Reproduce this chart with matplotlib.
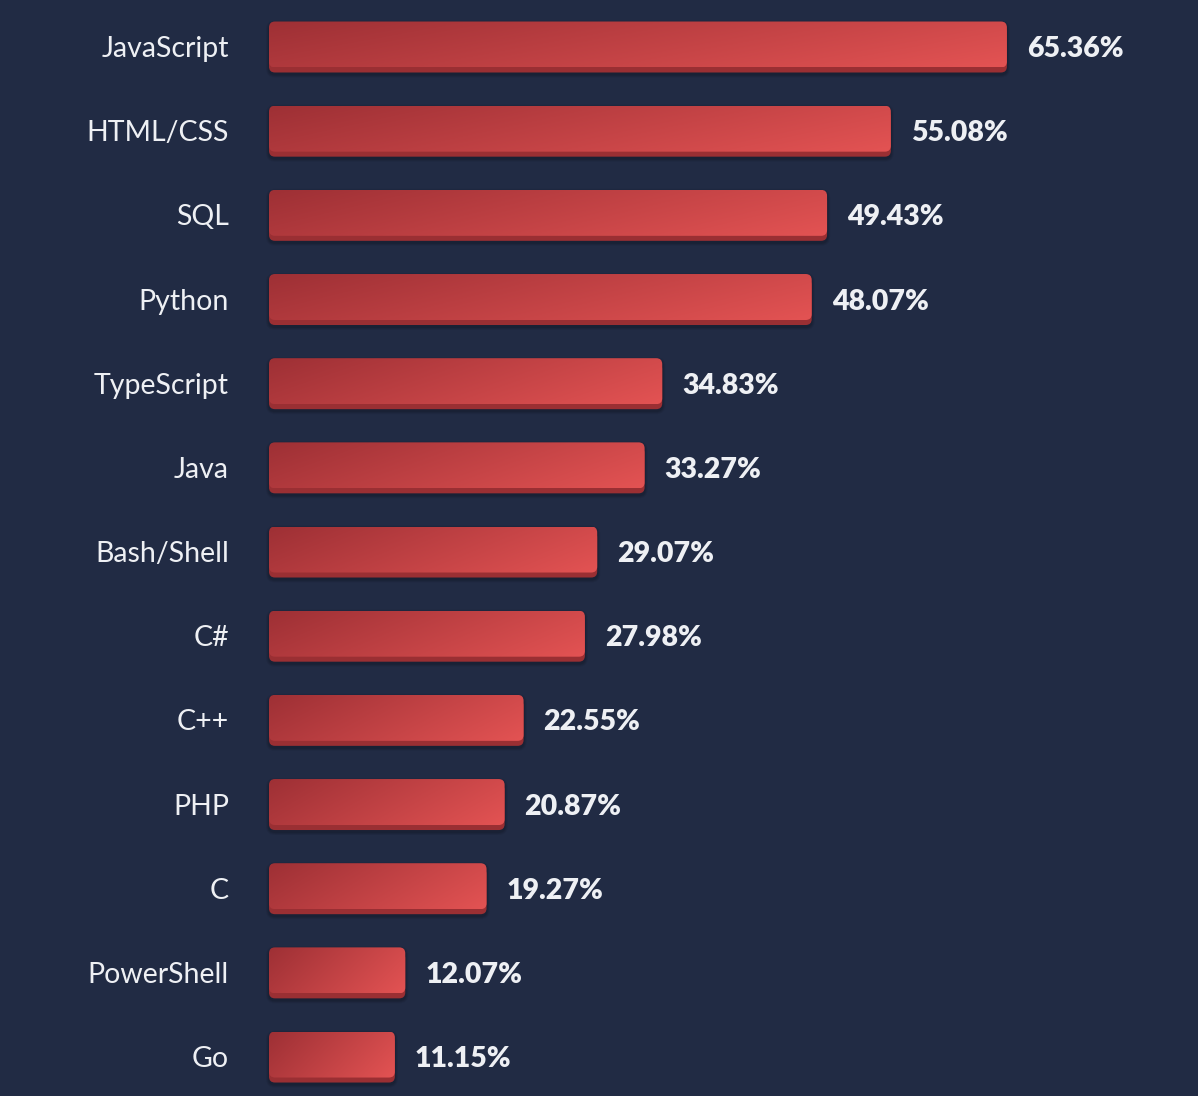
import numpy as np
import matplotlib.pyplot as plt
from matplotlib.patches import FancyBboxPatch
from matplotlib.colors import LinearSegmentedColormap

# Data
languages = ["JavaScript", "HTML/CSS", "SQL", "Python", "TypeScript", "Java",
             "Bash/Shell", "C#", "C++", "PHP", "C", "PowerShell", "Go"]
shares = [65.36, 55.08, 49.43, 48.07, 34.83, 33.27,
          29.07, 27.98, 22.55, 20.87, 19.27, 12.07, 11.15]

BG = "#212b44"
TEXT = "#eef0f4"
cmap = LinearSegmentedColormap.from_list("bar", ["#9e3035", "#e35353"])
EDGE = "#9a2f33"

W, H = 1198, 1096
fig = plt.figure(figsize=(W / 100, H / 100), dpi=100)
fig.patch.set_facecolor(BG)
ax = fig.add_axes([0, 0, 1, 1])
ax.set_facecolor(BG)
ax.axis("off")

# pixel scale: bar origin at x=269, 11.29 px per percent; rows 84.17 px apart
px_x = 11.29
px_y = 84.17
ax.set_xlim(-269 / px_x, (W - 269) / px_x)
ax.set_ylim((H - 47) / px_y, -47 / px_y)

face_h = 46 / px_y
band = 5 / px_y
rad = 6 / px_x
aspect = px_x / px_y

u = np.linspace(0, 1, 200)
v = np.linspace(0, 1, 40)
U, V = np.meshgrid(u, v)
grad = 0.75 * U + 0.25 * V

for i, (lang, val) in enumerate(zip(languages, shares)):
    top = i - (face_h + band) / 2
    # soft shadow
    for k, a in [(3, 0.05), (2, 0.07), (1, 0.09)]:
        sh = FancyBboxPatch((0 - k / px_x, top - k / px_y + 2 / px_y),
                            val + k * 2 / px_x, face_h + band + 2 * k / px_y,
                            boxstyle=f"round,pad=0,rounding_size={rad + k / px_x}",
                            mutation_aspect=aspect, fc="black", ec="none",
                            alpha=a, zorder=1)
        ax.add_patch(sh)
    # darker bottom band
    base = FancyBboxPatch((0, top + band), val, face_h,
                          boxstyle=f"round,pad=0,rounding_size={rad}",
                          mutation_aspect=aspect, fc=EDGE, ec="none", zorder=2)
    ax.add_patch(base)
    face = FancyBboxPatch((0, top), val, face_h,
                          boxstyle=f"round,pad=0,rounding_size={rad}",
                          mutation_aspect=aspect, fc="none", ec="none", zorder=3)
    ax.add_patch(face)
    im = ax.imshow(grad, cmap=cmap, extent=[0, val, top + face_h, top],
                   aspect="auto", interpolation="bicubic", zorder=3)
    im.set_clip_path(face)

    ax.text(-40 / px_x, i + 2 / px_y, lang, ha="right", va="center", color=TEXT,
            fontsize=20.5, family="Lato")
    ax.text(val + 20 / px_x, i + 2 / px_y, f"{val:.2f}%", ha="left", va="center",
            color=TEXT, fontsize=20.5, fontweight="heavy", family="Lato")

fig.savefig("out.png", dpi=100, facecolor=BG)
